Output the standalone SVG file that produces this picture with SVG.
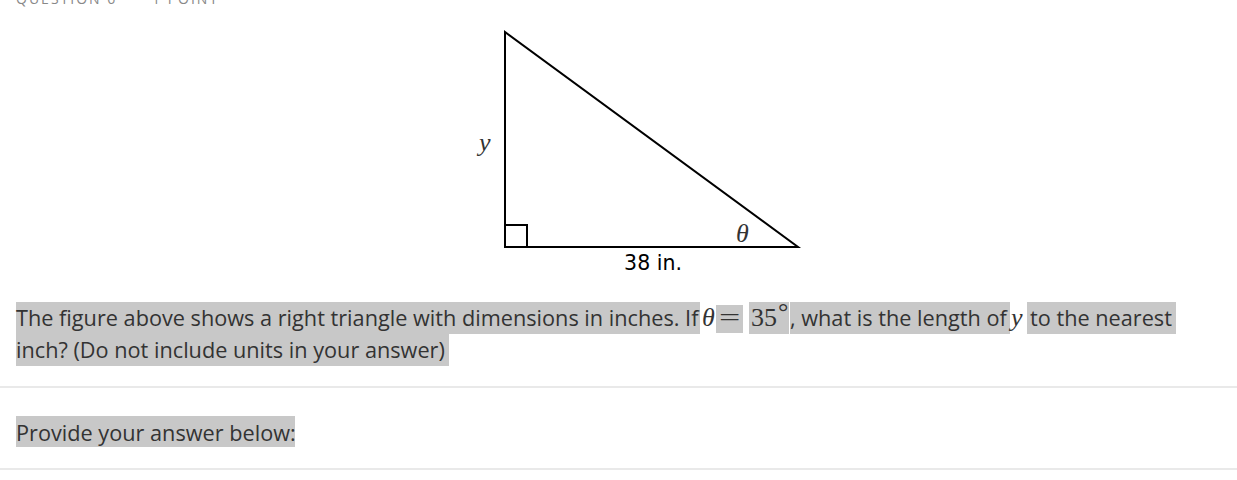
<svg xmlns="http://www.w3.org/2000/svg" width="1237" height="480" viewBox="0 0 1237 480">
<style>
.t{font-family:"Open Sans","Liberation Sans",sans-serif;font-size:21.7px;fill:#333}
.m{font-family:"Liberation Serif","DejaVu Serif",serif;font-size:26px;fill:#333}
.mi{font-style:italic}
.hl{fill:#c8c8c8}
.fig{stroke:#000;stroke-width:2;fill:none}
.lbl{font-family:"DejaVu Sans",sans-serif;font-size:20.5px;fill:#000}
.sep{stroke:#e2e2e2;stroke-width:1.5}
.hdr{font-family:"Open Sans","Liberation Sans",sans-serif;font-size:14px;fill:#888;letter-spacing:2px}
</style>
<rect width="1237" height="480" fill="#fff"/>
<g id="header">
<text class="hdr" x="16" y="4">QUESTION 6</text>
<text class="hdr" x="152" y="4">1 POINT</text>
</g>
<g id="figure">
<polygon class="fig" points="505,32 505,247 798,247" stroke-linejoin="miter"/>
<polyline class="fig" points="505,225 527,225 527,247"/>
<text class="m mi" x="479" y="151" font-size="25" fill="#000">y</text>
<text class="m mi" x="736" y="242" font-size="26" fill="#000">θ</text>
<text class="lbl" x="653" y="270" text-anchor="middle">38 in.</text>
</g>
<g id="question">
<rect class="hl" x="16" y="302" width="684" height="32"/>
<rect class="hl" x="716" y="305" width="27" height="28"/>
<rect class="hl" x="749" y="302" width="40" height="32"/>
<rect class="hl" x="790" y="302" width="220" height="32"/>
<rect class="hl" x="1027" y="302" width="149" height="32"/>
<rect class="hl" x="16" y="334" width="433" height="32"/>
<text class="t" x="16" y="326">The figure above shows a right triangle with dimensions in inches. If</text>
<text class="m mi" x="702" y="326">θ</text>
<text class="m" x="0" y="0" transform="translate(719,326) scale(1.45,1)">=</text>
<text class="m" x="751" y="326">35</text>
<text class="m" x="778" y="320" font-size="17">°</text>
<text class="t" x="790" y="326">, what is the length of</text>
<text class="m mi" x="1011" y="326">y</text>
<text class="t" x="1030" y="326">to the nearest</text>
<text class="t" x="16" y="358">inch? (Do not include units in your answer)</text>
</g>
<g id="separators">
<line class="sep" x1="0" y1="387" x2="1237" y2="387"/>
<line class="sep" x1="0" y1="469" x2="1237" y2="469"/>
</g>
<g id="answer">
<rect class="hl" x="16" y="416" width="279" height="31"/>
<text class="t" x="16" y="441">Provide your answer below:</text>
</g>
</svg>
